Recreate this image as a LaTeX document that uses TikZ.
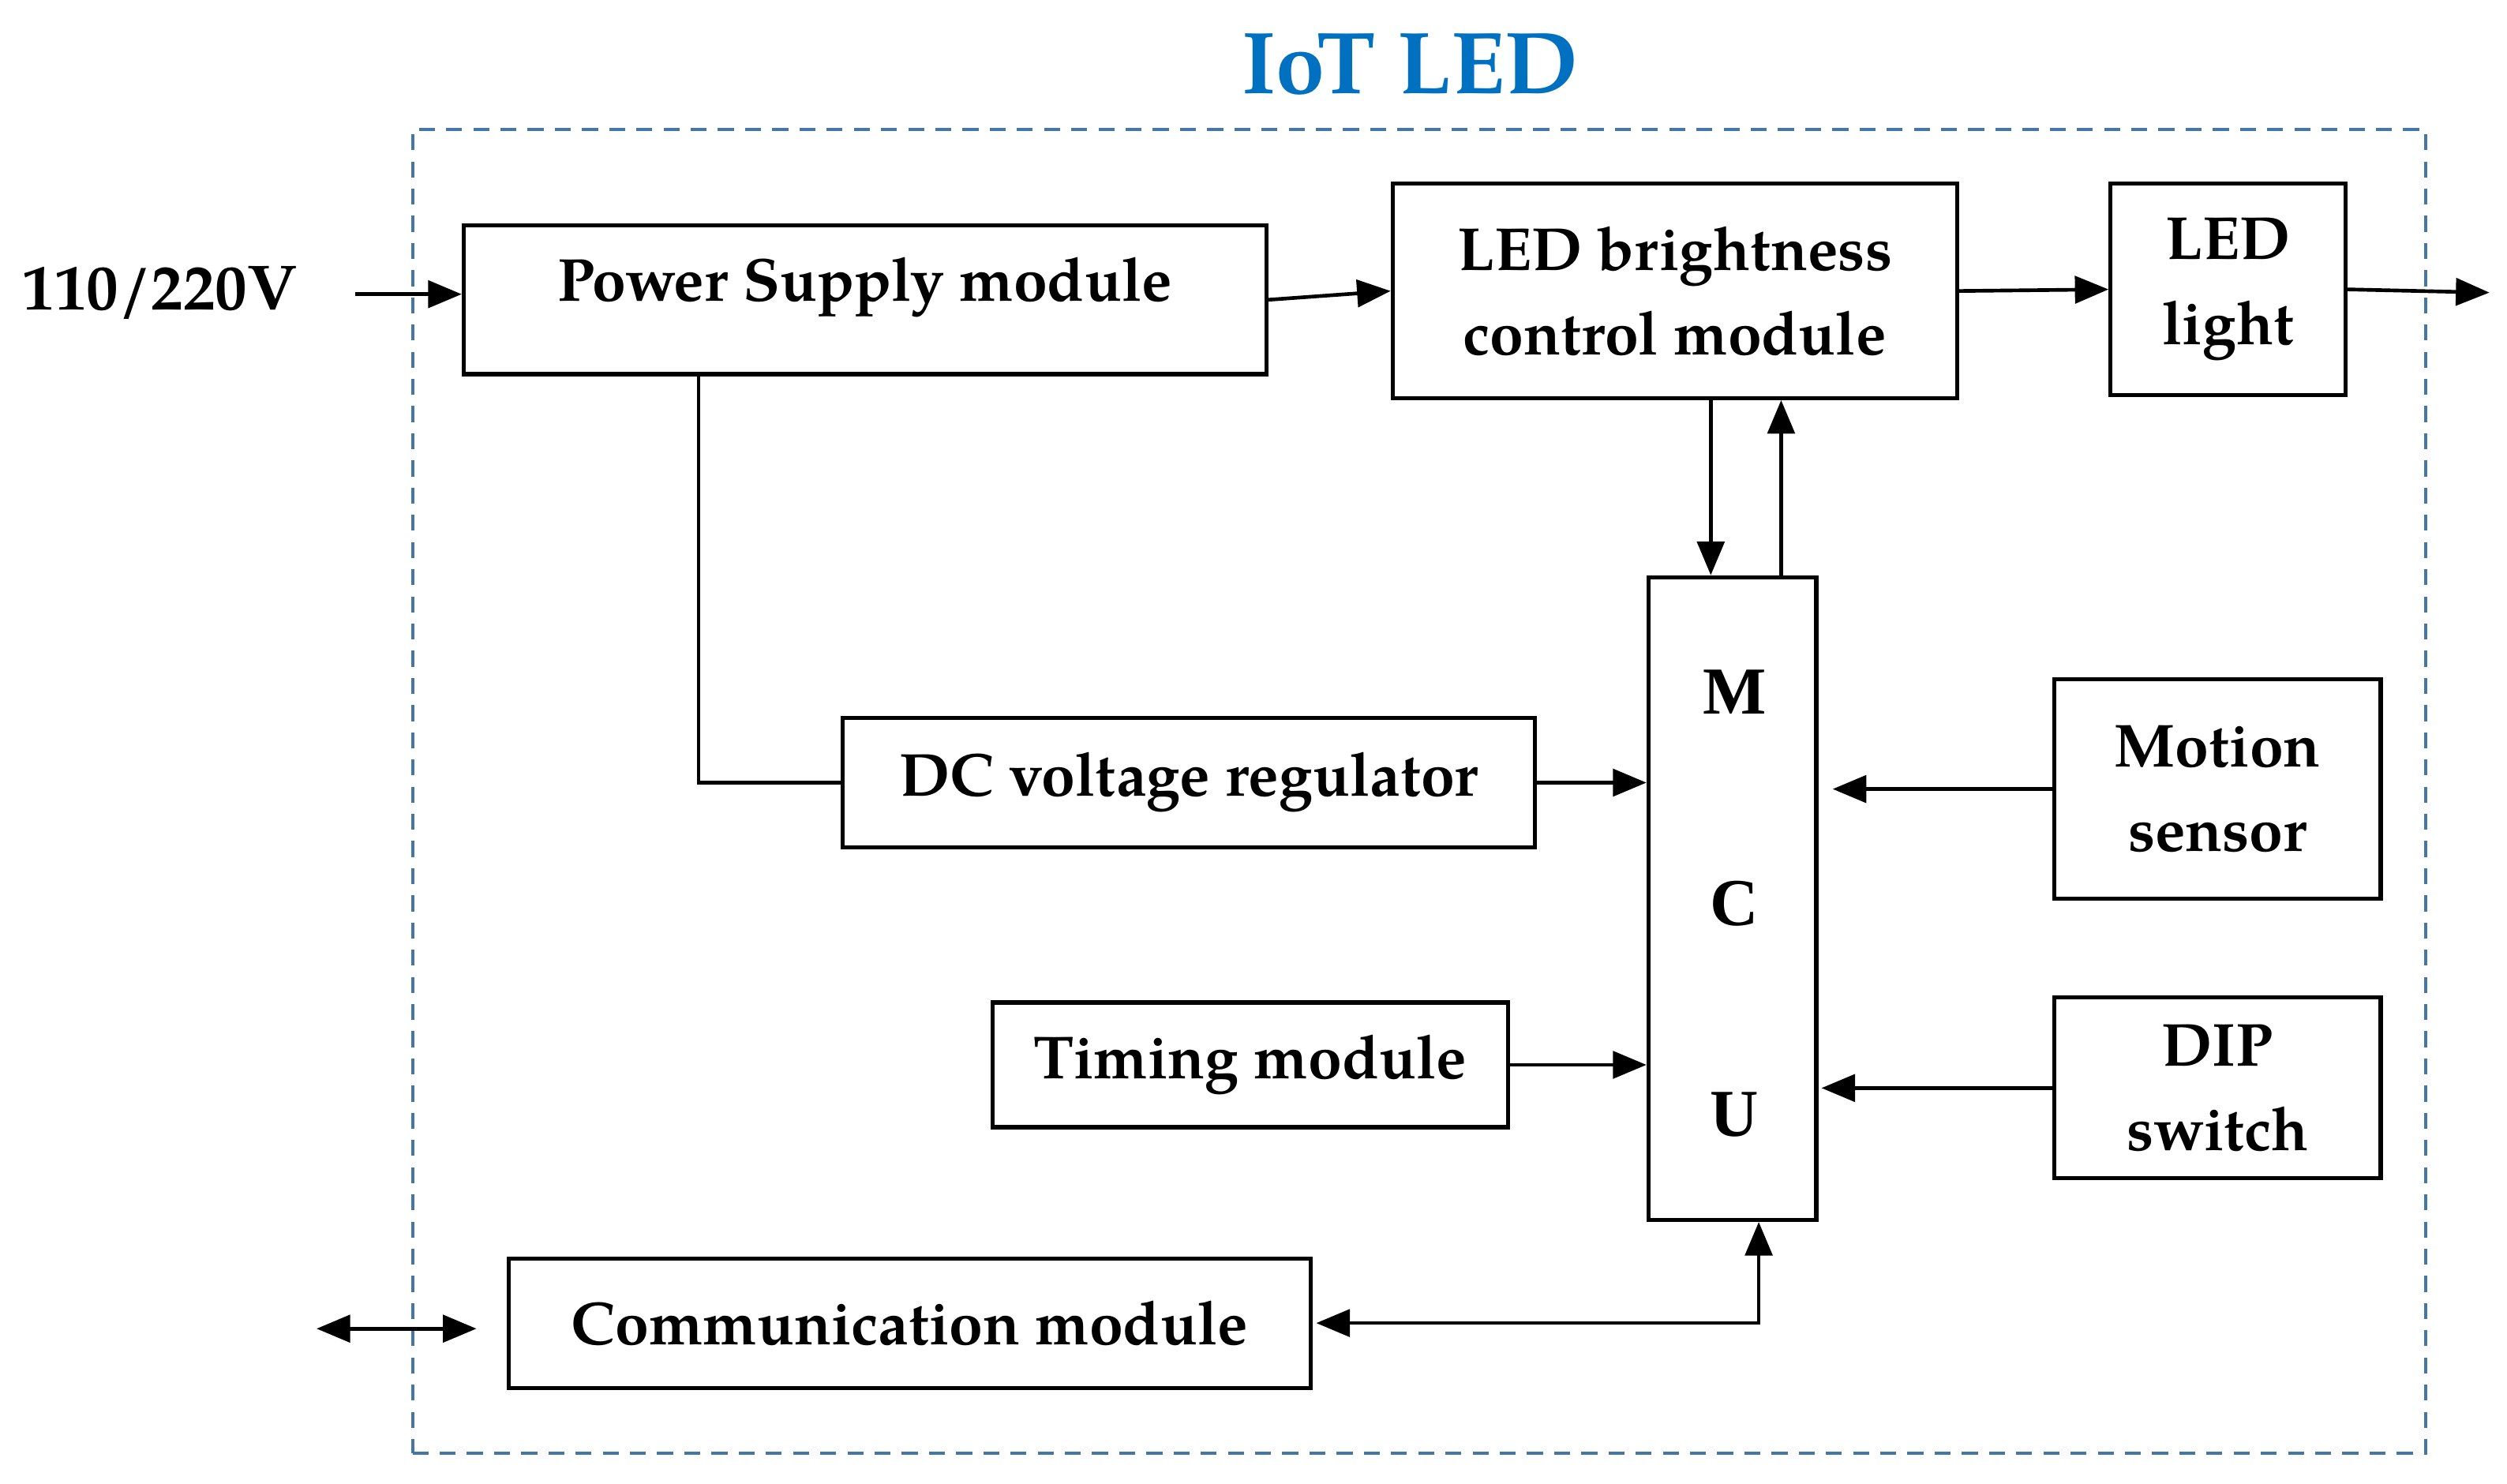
\documentclass[tikz,border=0pt]{standalone}
\usepackage{fontspec}
\setmainfont{texgyrepagella}[Extension=.otf, UprightFont=*-regular, BoldFont=*-bold]
\newfontfamily\mcufont{Liberation Serif}
\usetikzlibrary{arrows.meta,calc}
\definecolor{framec}{RGB}{70,118,165}
\definecolor{titlec}{RGB}{0,112,192}
\tikzset{
  box/.style={draw=black, line width=2.5pt, rectangle, align=center, inner sep=0pt,
    font=\fontsize{38}{53}\selectfont\bfseries},
  arr/.style={line width=2.3pt, -{Triangle[length=21pt,width=17pt]}},
  darr/.style={line width=2.3pt, {Triangle[length=21pt,width=17pt]}-{Triangle[length=21pt,width=17pt]}},
  plain/.style={line width=2.3pt},
  frame/.style={draw=framec, line width=2pt, dash pattern=on 10pt off 7pt},
}
\begin{document}
\begin{tikzpicture}[x=1pt,y=-1pt]
\useasboundingbox (0,0) rectangle (1568,928);
\node[frame, minimum width=1259pt, minimum height=828pt, inner sep=0pt] (frm) at (887.5,495) {};
\node[text=titlec, font=\fontsize{55}{60}\selectfont\bfseries] (title) at (882,40) {IoT LED};
\node[font=\fontsize{40}{48}\selectfont\bfseries] (volt) at (100,183) {110/220V};

\node[box, minimum width=502pt, minimum height=93pt, text depth=26pt] (ps) at (541,187.5) {Power Supply module};
\node[box, minimum width=353pt, minimum height=134pt] (led) at (1047.5,182) {LED brightness\\control module};
\node[box, minimum width=147pt, minimum height=132pt] (light) at (1393.5,181) {LED\\light};
\node[box, minimum width=105pt, minimum height=402pt] (mcu) at (1083.5,562) {};
\node[font=\fontsize{42}{42}\mcufont\bfseries] (mM) at (1085,433) {M};
\node[font=\fontsize{42}{42}\mcufont\bfseries] (mC) at (1085,565) {C};
\node[font=\fontsize{42}{42}\mcufont\bfseries] (mU) at (1085,697) {U};
\node[box, minimum width=433pt, minimum height=81pt] (dc) at (743.5,489.5) {DC voltage regulator};
\node[box, minimum width=204pt, minimum height=137pt] (motion) at (1387,493.5) {Motion\\sensor};
\node[box, minimum width=322pt, minimum height=78pt] (timing) at (782,666) {Timing module};
\node[box, minimum width=204pt, minimum height=113pt] (dip) at (1387,680.5) {DIP\\switch};
\node[box, minimum width=502pt, minimum height=81pt] (comm) at (569,827.5) {Communication module};

\coordinate (inL) at (222,184);
\coordinate (outR) at (1557,183);
\coordinate (dn) at (1070,0);
\coordinate (up) at (1114,0);
\coordinate (pv) at (437,0);
\coordinate (cv) at (1100,0);
\coordinate (extL) at (198,831);
\coordinate (extR) at (298,831);

\draw[arr] (inL) -- (inL -| ps.west);
\draw[arr] (ps.east) -- (led.west);
\draw[arr] (led.east) -- (light.west);
\draw[arr] (light.east) -- (outR);
\draw[arr] (dn |- led.south) -- (dn |- mcu.north);
\draw[arr] (up |- mcu.north) -- (up |- led.south);
\draw[plain] (pv |- ps.south) -- (pv |- dc.west) -- (dc.west);
\draw[arr] (dc.east) -- (mcu.west |- dc.east);
\draw[arr] (timing.east) -- (mcu.west |- timing.east);
\draw[arr, shorten >=9pt] (motion.west) -- (mcu.east |- motion.west);
\draw[arr, shorten >=2pt] (dip.west) -- (mcu.east |- dip.west);
\draw[darr, shorten <=2pt] (comm.east) -- (cv |- comm.east) -- (cv |- mcu.south);
\draw[darr] (extL) -- (extR);
\end{tikzpicture}
\end{document}
